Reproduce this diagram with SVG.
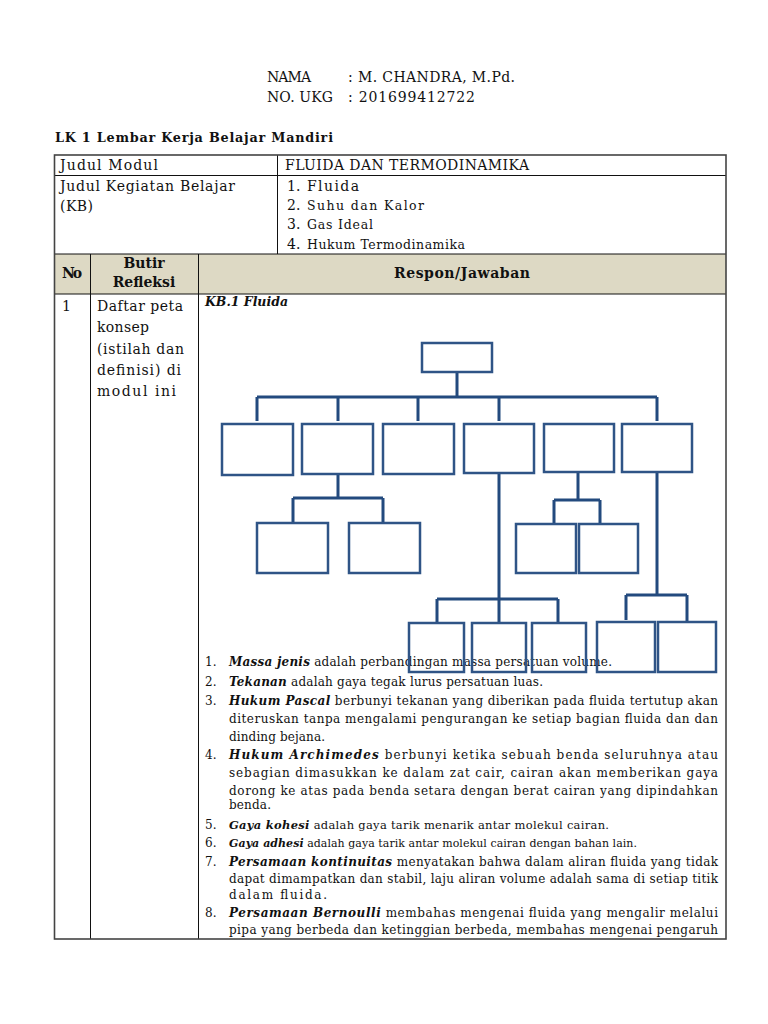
<svg xmlns="http://www.w3.org/2000/svg" width="768" height="1024" viewBox="0 0 768 1024">
<style>
text{font-family:"DejaVu Serif","Liberation Serif",serif;fill:#111;}
.hd{font-size:14px;}
.cell{font-size:14px;}
.sm{font-size:12.5px;}
.b{font-weight:bold;}
.bi{font-weight:bold;font-style:italic;}
.li{font-size:12px;}
.grid{stroke:#111;stroke-width:1;fill:none;}
.outer{stroke:#444;stroke-width:1.6;fill:none;}
.box{fill:none;stroke:#2f5486;stroke-width:2.5;}
.con{fill:none;stroke:#234a7e;stroke-width:3;}
</style>
<rect width="768" height="1024" fill="#fff"/>
<!-- header -->
<text class="hd" x="267" y="82" textLength="44">NAMA</text>
<text class="hd" x="348" y="82" textLength="167">: M. CHANDRA, M.Pd.</text>
<text class="hd" x="267" y="102" textLength="66">NO. UKG</text>
<text class="hd" x="348" y="102" textLength="127">: 201699412722</text>
<text class="b" style="font-size:12.8px" x="55" y="142" textLength="278">LK 1 Lembar Kerja Belajar Mandiri</text>
<!-- table -->
<rect x="54.5" y="254" width="671.5" height="40" fill="#ddd9c4"/>
<g>
<path class="grid" d="M54.5 175.5H726M54.5 254H726M54.5 294H726M277.5 155V254M90.5 254V939M198.5 254V939"/>
<rect class="outer" x="54.5" y="155" width="671.5" height="784"/>
</g>
<text class="cell" x="60" y="170" textLength="98">Judul Modul</text>
<text class="cell" x="60" y="191" textLength="175">Judul Kegiatan Belajar</text>
<text class="cell" x="60" y="211" textLength="33">(KB)</text>
<text class="cell" x="285" y="170" textLength="244">FLUIDA DAN TERMODINAMIKA</text>
<text class="cell" x="287" y="191">1.</text>
<text class="cell" x="307" y="191" textLength="52">Fluida</text>
<text class="cell" x="287" y="210">2.</text>
<text class="sm" x="307" y="210" textLength="117">Suhu dan Kalor</text>
<text class="cell" x="287" y="229">3.</text>
<text class="sm" x="307" y="229" textLength="66">Gas Ideal</text>
<text class="cell" x="287" y="249">4.</text>
<text class="sm" x="307" y="249" textLength="158">Hukum  Termodinamika</text>
<text class="cell b" x="62" y="278" textLength="20">No</text>
<text class="cell b" x="144" y="268" text-anchor="middle">Butir</text>
<text class="cell b" x="144" y="287" text-anchor="middle">Refleksi</text>
<text class="cell b" x="394" y="278" textLength="136">Respon/Jawaban</text>
<text class="cell" x="62" y="311">1</text>
<g class="cell">
<text x="97" y="311" textLength="86">Daftar peta</text>
<text x="97" y="332" textLength="52">konsep</text>
<text x="97" y="353.5" textLength="87">(istilah dan</text>
<text x="97" y="375" textLength="84">definisi) di</text>
<text x="97" y="396" textLength="79">modul ini</text>
</g>
<text class="cell bi" style="font-size:12.5px" x="205" y="306" textLength="83">KB.1 Fluida</text>
<!-- list -->
<g class="li">
<text x="205" y="666">1.</text>
<text x="229" y="666" textLength="383"><tspan class="bi">Massa jenis</tspan> adalah perbandingan massa persatuan volume.</text>
<text x="205" y="686">2.</text>
<text x="229" y="686" textLength="314"><tspan class="bi">Tekanan</tspan> adalah gaya tegak lurus persatuan luas.</text>
<text x="205" y="705">3.</text>
<text x="229" y="705" textLength="489"><tspan class="bi">Hukum Pascal</tspan>  berbunyi tekanan yang diberikan pada fluida tertutup akan</text>
<text x="229" y="723" textLength="489">diteruskan tanpa mengalami pengurangan ke setiap bagian fluida dan dan</text>
<text x="229" y="741" textLength="96">dinding bejana.</text>
<text x="205" y="759">4.</text>
<text x="229" y="759" textLength="489"><tspan class="bi">Hukum Archimedes</tspan> berbunyi ketika sebuah benda seluruhnya atau</text>
<text x="229" y="777" textLength="489">sebagian dimasukkan ke dalam zat cair, cairan akan memberikan gaya</text>
<text x="229" y="795" textLength="489">dorong ke atas pada benda setara dengan berat cairan yang dipindahkan</text>
<text x="229" y="809" textLength="42">benda.</text>
<text x="205" y="829">5.</text>
<text x="229" y="829" style="font-size:11.5px" textLength="380"><tspan class="bi">Gaya kohesi</tspan> adalah gaya tarik menarik antar molekul cairan.</text>
<text x="205" y="847">6.</text>
<text x="229" y="847" style="font-size:11px" textLength="408"><tspan class="bi">Gaya adhesi</tspan> adalah gaya tarik antar molekul cairan dengan bahan lain.</text>
<text x="205" y="866">7.</text>
<text x="229" y="866" textLength="489"><tspan class="bi">Persamaan kontinuitas</tspan> menyatakan bahwa dalam aliran fluida yang tidak</text>
<text x="229" y="883" textLength="489">dapat dimampatkan dan stabil, laju aliran volume adalah sama di setiap titik</text>
<text x="229" y="899" textLength="98">dalam fluida.</text>
<text x="205" y="917">8.</text>
<text x="229" y="917" textLength="489"><tspan class="bi">Persamaan Bernoulli</tspan> membahas mengenai fluida yang mengalir melalui</text>
<text x="229" y="934" textLength="489">pipa yang berbeda dan ketinggian berbeda, membahas mengenai pengaruh</text>
</g>
<!-- connectors -->
<g id="connectors" class="con">
<path d="M457 372V397M257 397H657M257 397V421M338 397V421M418 397V421M499 397V421M657 397V421"/>
<path d="M338 474V498M293 498H383M293 498V523M383 498V523"/>
<path d="M499 473V599M437 599H558M437 599V622M499 599V623M558 599V623"/>
<path d="M578 472V500M554 500H600M554 500V523M600 500V524"/>
<path d="M657 472V595M626 595H687M626 595V620M687 595V622"/>
</g>
<!-- nodes -->
<g id="n0"><rect class="box" x="422" y="343" width="70" height="29"/></g>
<g id="n1"><rect class="box" x="222" y="424" width="71" height="51"/></g>
<g id="n2"><rect class="box" x="302" y="424" width="71" height="50"/></g>
<g id="n3"><rect class="box" x="383" y="424" width="71" height="50"/></g>
<g id="n4"><rect class="box" x="464" y="424" width="70" height="49"/></g>
<g id="n5"><rect class="box" x="544" y="424" width="70" height="48"/></g>
<g id="n6"><rect class="box" x="622" y="424" width="70" height="48"/></g>
<g id="n2a"><rect class="box" x="257" y="523" width="71" height="50"/></g>
<g id="n2b"><rect class="box" x="349" y="523" width="71" height="50"/></g>
<g id="n5a"><rect class="box" x="516" y="524" width="60" height="49"/></g>
<g id="n5b"><rect class="box" x="579" y="524" width="59" height="49"/></g>
<g id="n4a"><rect class="box" x="409" y="623" width="55" height="49"/></g>
<g id="n4b"><rect class="box" x="472" y="623" width="54" height="49"/></g>
<g id="n4c"><rect class="box" x="532" y="623" width="54" height="49"/></g>
<g id="n6a"><rect class="box" x="597" y="622" width="58" height="50"/></g>
<g id="n6b"><rect class="box" x="658" y="622" width="58" height="50"/></g>
</svg>
